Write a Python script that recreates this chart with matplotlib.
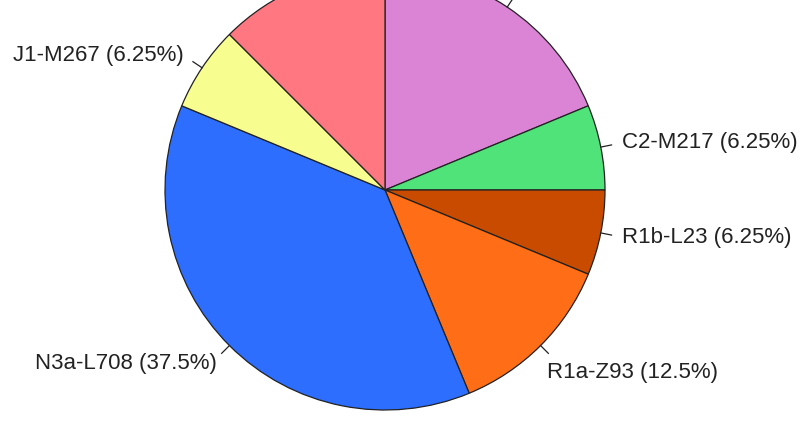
import numpy as np
import matplotlib
matplotlib.use("Agg")
import matplotlib.pyplot as plt

# Slices, clockwise from 12 o'clock
labels = ["", "C2-M217", "R1b-L23", "R1a-Z93", "N3a-L708", "J1-M267", ""]
values = [18.75, 6.25, 6.25, 12.5, 37.5, 6.25, 12.5]
colors = ["#DB83D5", "#50E37A", "#C84B00", "#FF6E16", "#2D6EFF", "#F7FD8F", "#FF7780"]

full_labels = [f"{l} ({v:g}%)" if l else "" for l, v in zip(labels, values)]

plt.rcParams["font.family"] = ["Liberation Sans", "DejaVu Sans"]

W, H = 809, 425
fig = plt.figure(figsize=(W / 100, H / 100), dpi=100)
ax = fig.add_axes([0, 0, 1, 1])

cx, cy, r = 385, 235, 220
wedges, texts = ax.pie(
    values, labels=full_labels, colors=colors, startangle=90, counterclock=False,
    center=(cx, cy), radius=r, labeldistance=1.1,
    wedgeprops=dict(edgecolor="#222222", linewidth=0.9),
    textprops=dict(fontsize=16, color="#222222"),
    frame=True,
)
ax.set_xlim(0, W)
ax.set_ylim(0, H)
ax.set_aspect("equal")
ax.axis("off")

# small label nudges (pixels) to match layout
nudges = {3: (-9, -11), 4: (3, -2)}

for i, (w, t) in enumerate(zip(wedges, texts)):
    ang = np.deg2rad((w.theta1 + w.theta2) / 2)
    ax.plot([cx + r * np.cos(ang), cx + 1.05 * r * np.cos(ang)],
            [cy + r * np.sin(ang), cy + 1.05 * r * np.sin(ang)],
            color="#222222", lw=0.9)
    t.set_horizontalalignment("left" if np.cos(ang) >= 0 else "right")
    t.set_verticalalignment("center")
    if i in nudges:
        x, y = t.get_position()
        dx, dy = nudges[i]
        t.set_position((x + dx, y + dy))

fig.savefig("out.png", dpi=100)
